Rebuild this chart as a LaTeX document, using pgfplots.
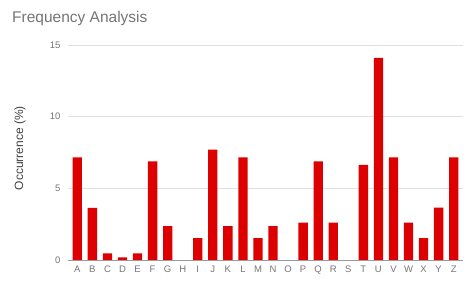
\documentclass[border=0pt]{standalone}
\usepackage{fontspec}
\setmainfont{Liberation Sans}
\usepackage{pgfplots}
\pgfplotsset{compat=1.18}
\definecolor{barred}{HTML}{DD0000}
\definecolor{txtgray}{HTML}{757575}
\definecolor{gridgray}{HTML}{E0E0E0}
\begin{document}
\begin{tikzpicture}
\useasboundingbox (0,0) rectangle (474pt,287pt);
\node[anchor=base west, text=txtgray, font=\fontsize{15.5}{18}\selectfont, inner sep=0pt] at (12pt,264pt) {Frequency Analysis};
\begin{axis}[
  at={(68pt,27pt)}, anchor=south west,
  scale only axis, width=395pt, height=215pt,
  xmin=-0.62, xmax=25.62, ymin=0, ymax=15,
  ytick={0,5,10,15},
  xtick={0,...,25},
  xticklabels={A,B,C,D,E,F,G,H,I,J,K,L,M,N,O,P,Q,R,S,T,U,V,W,X,Y,Z},
  axis line style={draw=none},
  major tick length=0pt,
  ymajorgrids, grid style={gridgray, line width=0.8pt},
  tick label style={text=txtgray, font=\fontsize{9.5}{11}\selectfont},
  /pgf/number format/assume math mode=true,
  yticklabel style={xshift=-4pt},
  xticklabel style={yshift=-2pt},
  ylabel={Occurrence (\%)},
  ylabel style={text=black!75, font=\fontsize{12}{14}\selectfont, at={(-48pt,112pt)}, anchor=center, rotate=0},
  ybar, bar width=9.3pt, bar shift=0pt,
  clip=false,
]
\addplot[fill=barred, draw=none] coordinates {
(0,7.16) (1,3.63) (2,0.47) (3,0.19) (4,0.47) (5,6.88) (6,2.37) (7,0) (8,1.53) (9,7.70)
(10,2.37) (11,7.16) (12,1.53) (13,2.37) (14,0) (15,2.6) (16,6.88) (17,2.6) (18,0) (19,6.63)
(20,14.1) (21,7.16) (22,2.6) (23,1.53) (24,3.65) (25,7.16)};
\draw[gray!80, line width=0.8pt] (axis cs:-0.62,0) -- (axis cs:25.62,0);
\end{axis}
\end{tikzpicture}
\end{document}
